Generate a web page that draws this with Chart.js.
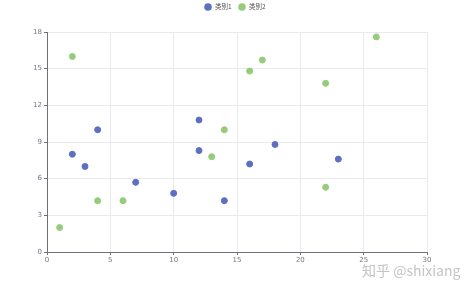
<!DOCTYPE html>
<html>
<head>
<meta charset="utf-8">
<script src="https://cdn.jsdelivr.net/npm/chart.js@4/dist/chart.umd.min.js"></script>
<style>
  html, body { margin: 0; padding: 0; background: #fff; }
  #wrap { width: 474px; height: 291px; position: relative; }
</style>
</head>
<body>
<div id="wrap"><canvas id="chart"></canvas></div>
<script>
// 数据
const seriesNames = ['类别1', '类别2'];
const series1 = [
    { x: 2, y: 8 }, { x: 3, y: 7 }, { x: 4, y: 10 }, { x: 7, y: 5.7 },
    { x: 10, y: 4.8 }, { x: 12, y: 10.8 }, { x: 12, y: 8.3 }, { x: 14, y: 4.2 },
    { x: 16, y: 7.2 }, { x: 18, y: 8.8 }, { x: 23, y: 7.6 }
];
const series2 = [
    { x: 1, y: 2 }, { x: 2, y: 16 }, { x: 4, y: 4.2 }, { x: 6, y: 4.2 },
    { x: 13, y: 7.8 }, { x: 14, y: 10 }, { x: 16, y: 14.8 }, { x: 17, y: 15.7 },
    { x: 22, y: 13.8 }, { x: 22, y: 5.3 }, { x: 26, y: 17.6 }
];
const xTicks = [0, 5, 10, 15, 20, 25, 30];
const yTicks = [0, 3, 6, 9, 12, 15, 18];
const colors = ['#5b70c0', '#96cb7a'];

// 图例和水印
const legendPlugin = {
    id: 'legendDraw',
    afterDraw(chart) {
        const ctx = chart.ctx;
        ctx.save();
        ctx.font = '6.5px "Noto Sans CJK SC", sans-serif';
        ctx.textBaseline = 'middle';
        let x = 208;
        chart.data.datasets.forEach((ds) => {
            ctx.fillStyle = ds.backgroundColor;
            ctx.beginPath();
            ctx.arc(x, 7, 3.8, 0, Math.PI * 2);
            ctx.fill();
            ctx.fillStyle = '#555';
            ctx.fillText(ds.label, x + 7, 7);
            x += 34;
        });
        ctx.font = '14px "Noto Sans CJK SC", sans-serif';
        ctx.fillStyle = '#c4c4c4';
        ctx.textBaseline = 'alphabetic';
        ctx.fillText('知乎 @shixiang', 362, 276);
        ctx.restore();
    }
};

const ctx = document.getElementById('chart').getContext('2d');
new Chart(ctx, {
    type: 'scatter',
    data: {
        datasets: [
            { label: seriesNames[0], data: series1, backgroundColor: colors[0], borderColor: colors[0], pointRadius: 3, pointHoverRadius: 3 },
            { label: seriesNames[1], data: series2, backgroundColor: colors[1], borderColor: colors[1], pointRadius: 3, pointHoverRadius: 3 }
        ]
    },
    options: {
        responsive: true,
        maintainAspectRatio: false,
        animation: false,
        layout: { padding: { top: 32, right: 47, left: 0, bottom: 0 } },
        plugins: { legend: { display: false }, tooltip: { enabled: false } },
        scales: {
            x: {
                type: 'linear', min: 0, max: 30,
                afterBuildTicks: (axis) => { axis.ticks = xTicks.map(v => ({ value: v })); },
                afterFit: (axis) => { axis.height = 39; },
                grid: { color: '#e8eaf0', tickColor: '#6e7079', tickLength: 3, lineWidth: 1 },
                border: { color: '#6e7079', width: 1 },
                ticks: { color: '#777', font: { size: 7, family: 'DejaVu Sans' }, padding: 1, maxRotation: 0 }
            },
            y: {
                type: 'linear', min: 0, max: 18,
                afterBuildTicks: (axis) => { axis.ticks = yTicks.map(v => ({ value: v })); },
                afterFit: (axis) => { axis.width = 47; },
                grid: { color: '#e8eaf0', tickColor: '#6e7079', tickLength: 3, lineWidth: 1 },
                border: { color: '#6e7079', width: 1 },
                ticks: { color: '#777', font: { size: 7, family: 'DejaVu Sans' }, padding: 2 }
            }
        }
    },
    plugins: [legendPlugin]
});
</script>
</body>
</html>
